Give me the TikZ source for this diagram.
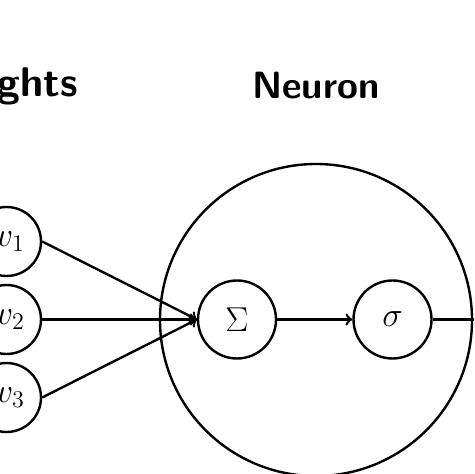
\documentclass[tikz,border=0pt]{standalone}
\usepackage{amsmath}
\begin{document}
\begin{tikzpicture}[x=0.5pt,y=-0.5pt,
  line width=1.2pt,
  wnode/.style={circle,draw,inner sep=0pt,minimum size=34.5pt,font=\fontsize{17}{20}\selectfont},
  opnode/.style={circle,draw,inner sep=0pt,minimum size=39pt,font=\fontsize{17}{20}\selectfont},
  bignode/.style={circle,draw,inner sep=0pt,minimum size=156pt},
  title/.style={inner sep=0pt,font=\fontsize{19}{23}\selectfont\sffamily\bfseries},
  conn/.style={->}]
\useasboundingbox (0,0) rectangle (474,474);
\clip (0,0) rectangle (474,474);
\node[bignode] (neuron) at (316,320) {};
\node[title,anchor=base] (tn) at (316,98.5) {Neuron};
\node[title,anchor=base east,font=\fontsize{20.7}{24}\selectfont\sffamily\bfseries] (tw) at (79,97) {Weights};
\node[wnode] (w1) at (6.5,241.5) {$w_1$};
\node[wnode] (w2) at (6.5,319.5) {$w_2$};
\node[wnode] (w3) at (6.5,397.5) {$w_3$};
\node[opnode] (sum) at (237,319.5) {$\Sigma$};
\node[opnode] (act) at (392.5,319.5) {$\sigma$};
\coordinate (out) at (490,319.5);
\draw[conn] (w1.east) -- (sum.west);
\draw[conn] (w2.east) -- (sum.west);
\draw[conn] (w3.east) -- (sum.west);
\draw[conn] (sum.east) -- (act.west);
\draw[conn] (act.east) -- (out);
\end{tikzpicture}
\end{document}
